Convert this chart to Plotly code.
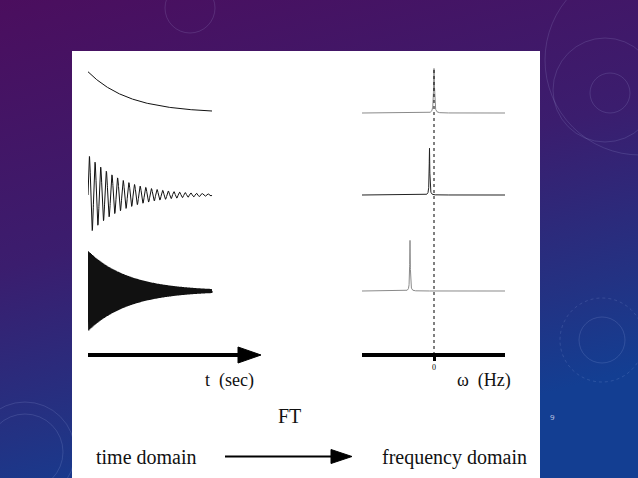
import base64
import numpy as np
import plotly.graph_objects as go

W, H = 638, 478

# time-domain signals (t runs 0..1 along each trace)
fid_amp = [0.75, 0.73, 0.73]
fid_decay = [0.33, 0.28, 0.33]
fid_cycles = [0, 22, 120]
fid_phase_deg = [0, -90, -90]
fid_points = [300, 1500, 4000]

# frequency-domain lines
peak_pos = [0.0, -4.5, -24.0]
peak_height = [0.81, 0.85, 0.92]
peak_width = [0.5, 0.35, 0.35]
spec_color = ["#8a8a8a", "#222222", "#8a8a8a"]
freq_range = [-72, 71]
zero_tick = [0]
zero_text = ["0"]

labels = ["t\u00a0\u00a0(sec)", "\u03c9\u00a0\u00a0(Hz)", "FT", "time domain", "frequency domain"]

# layout in pixels of the slide
baseline_px = [113, 195, 291]
row_half = 55
axis_px = 355


def px_x(x):
    return x / W


def px_y(y):
    return 1 - y / H


fig = go.Figure()

yaxis_names = ["y", "y2", "y3"]
time_width = [1, 1, 1.3]
for i in range(3):
    t = np.linspace(0, 1, fid_points[i])
    sig = fid_amp[i] * np.exp(-t / fid_decay[i]) * np.cos(
        2 * np.pi * fid_cycles[i] * t + np.radians(fid_phase_deg[i]))
    fig.add_trace(go.Scatter(x=t, y=sig, xaxis="x", yaxis=yaxis_names[i],
                             mode="lines", line=dict(color="#111111", width=time_width[i])))

    w = np.linspace(freq_range[0], freq_range[1], 6001)
    spec = peak_height[i] / (1 + ((w - peak_pos[i]) / peak_width[i]) ** 2)
    fig.add_trace(go.Scatter(x=w, y=spec, xaxis="x2", yaxis=yaxis_names[i],
                             mode="lines", line=dict(color=spec_color[i], width=1)))

axis_common = dict(showgrid=False, zeroline=False, fixedrange=True)
layout_axes = {}
for i, name in enumerate(["yaxis", "yaxis2", "yaxis3"]):
    b = baseline_px[i]
    layout_axes[name] = dict(domain=[px_y(b + row_half), px_y(b - row_half)],
                             range=[-1, 1], visible=False, anchor="free",
                             position=0, **axis_common)

layout_axes["xaxis"] = dict(domain=[px_x(88), px_x(240)], range=[0, 152 / 124],
                            anchor="free", position=px_y(axis_px), showline=True,
                            linewidth=3.5, linecolor="black", showticklabels=False,
                            ticks="", **axis_common)
layout_axes["xaxis2"] = dict(domain=[px_x(362), px_x(505)], range=freq_range,
                             anchor="free", position=px_y(axis_px), showline=True,
                             linewidth=3.5, linecolor="black", ticks="outside",
                             tickvals=zero_tick, ticktext=zero_text, ticklen=4,
                             tickwidth=3, tickcolor="black",
                             tickfont=dict(size=8, color="black",
                                           family="Liberation Serif"),
                             **axis_common)

# gradient slide background
svg = f"""<svg xmlns='http://www.w3.org/2000/svg' width='{W}' height='{H}' preserveAspectRatio='none'>
<defs><linearGradient id='g' x1='0' y1='0' x2='0.35' y2='1'>
<stop offset='0' stop-color='#4b0e5e'/>
<stop offset='0.5' stop-color='#3b1d6e'/>
<stop offset='0.82' stop-color='#233283'/>
<stop offset='1' stop-color='#133e92'/>
</linearGradient></defs>
<rect width='{W}' height='{H}' fill='url(#g)'/></svg>"""
bg_src = "data:image/svg+xml;base64," + base64.b64encode(svg.encode()).decode()

faint = "rgba(200,210,255,0.14)"
shapes = []
for cx, cy, r, dash in [(190, 8, 25, "solid"), (610, 93, 20, "solid"),
                        (605, 90, 52, "solid"), (640, 60, 95, "solid"),
                        (602, 340, 23, "solid"), (602, 340, 42, "dot"),
                        (25, 452, 38, "solid"), (25, 452, 50, "solid")]:
    shapes.append(dict(type="circle", xref="paper", yref="paper", layer="below",
                       x0=px_x(cx - r), x1=px_x(cx + r), y0=px_y(cy + r), y1=px_y(cy - r),
                       line=dict(color=faint, width=1, dash=dash)))

# white panel
shapes.append(dict(type="rect", xref="paper", yref="paper", layer="below",
                   x0=px_x(72), x1=px_x(540), y0=0, y1=px_y(51),
                   fillcolor="white", line=dict(width=0)))

# arrowheads and the FT arrow
def tri(x0, x1, yc, half):
    return (f"M {px_x(x0)},{px_y(yc - half)} L {px_x(x1)},{px_y(yc)} "
            f"L {px_x(x0)},{px_y(yc + half)} Z")


shapes.append(dict(type="path", xref="paper", yref="paper", path=tri(238, 261, axis_px, 8),
                   fillcolor="black", line=dict(color="black", width=1)))
shapes.append(dict(type="line", xref="paper", yref="paper", x0=px_x(225), x1=px_x(334),
                   y0=px_y(456.5), y1=px_y(456.5), line=dict(color="black", width=2)))
shapes.append(dict(type="path", xref="paper", yref="paper", path=tri(331, 352, 456.5, 7),
                   fillcolor="black", line=dict(color="black", width=1)))

# dotted reference line at zero frequency
shapes.append(dict(type="line", xref="x2", yref="paper", x0=0, x1=0,
                   y0=px_y(axis_px), y1=px_y(68),
                   line=dict(color="black", width=1, dash="dot")))

serif = "Liberation Serif, Times New Roman, serif"
text_pos = [(229, 380, 18), (484, 380, 18), (289, 416, 20), (146, 457, 20), (454, 457, 20)]
annotations = []
for txt, (x, y, s) in zip(labels, text_pos):
    annotations.append(dict(text=txt, x=px_x(x), y=px_y(y), xref="paper", yref="paper",
                            showarrow=False, xanchor="center", yanchor="middle",
                            font=dict(family=serif, size=s, color="#111111")))
annotations.append(dict(text="9", x=px_x(557), y=px_y(424), xref="paper", yref="paper",
                        showarrow=False, font=dict(family="Open Sans", size=8,
                                                   color="#c9cfe6")))

fig.update_layout(
    width=W, height=H, margin=dict(l=0, r=0, t=0, b=0),
    paper_bgcolor="#2a2670", plot_bgcolor="rgba(0,0,0,0)",
    showlegend=False, hovermode=False,
    images=[dict(source=bg_src, xref="paper", yref="paper", x=0, y=1,
                 sizex=1, sizey=1, sizing="stretch", xanchor="left", yanchor="top",
                 layer="below")],
    shapes=shapes, annotations=annotations, **layout_axes)

fig.write_html("out.html", config={"displayModeBar": False},
               post_script="document.body.style.margin='0';"
                           "document.body.style.overflow='hidden';")
